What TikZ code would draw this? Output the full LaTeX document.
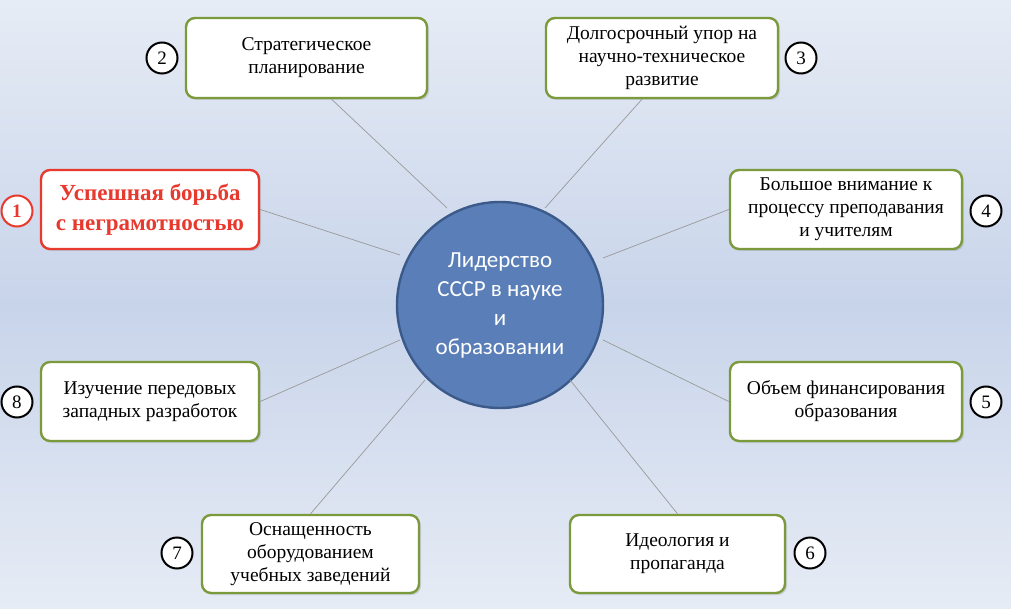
\documentclass[tikz,border=0pt]{standalone}
\usepackage{fontspec}
\setmainfont{Liberation Serif}
\newfontfamily\circfont{Carlito}
\usetikzlibrary{shadows}
\definecolor{olive}{HTML}{7A9A3C}
\definecolor{cfill}{HTML}{5A7FB8}
\definecolor{cedge}{HTML}{3B5A8A}
\definecolor{redc}{HTML}{E8392E}
\definecolor{bgtop}{HTML}{E6ECF5}
\definecolor{bgmid}{HTML}{C8D4EA}
\begin{document}
\begin{tikzpicture}[x=1pt,y=-1pt,
  box/.style={draw=olive,line width=2.4pt,rounded corners=9pt,fill=white,align=center,
    font=\fontsize{19.5}{23}\selectfont,drop shadow={opacity=0.25,shadow xshift=2pt,shadow yshift=-2pt}},
  badge/.style={circle,draw=black,line width=2pt,fill=white,minimum size=31pt,inner sep=0pt,font=\fontsize{19}{22}\selectfont},
  link/.style={draw=gray!80,line width=0.7pt}]
\shade[top color=bgtop,bottom color=bgmid] (0,0) rectangle (1011,305);
\shade[top color=bgmid,bottom color=bgtop] (0,305) rectangle (1011,609);
\useasboundingbox (0,0) rectangle (1011,609);
\node[circle,fill=cfill,draw=cedge,line width=2.4pt,minimum size=206pt,text=white,align=center,
  font=\circfont\fontsize{23}{29}\selectfont] (c) at (500,305) {Лидерство\\СССР в науке\\и\\образовании};
\node[box,draw=redc,text=redc,font=\bfseries\fontsize{23}{30}\selectfont,minimum width=218pt,minimum height=79pt] (b1) at (150,209.5) {Успешная борьба\\с неграмотностью};
\node[box,minimum width=241pt,minimum height=80pt] (b2) at (306.5,58) {Стратегическое\\планирование};
\node[box,minimum width=232pt,minimum height=80pt] (b3) at (662,58) {Долгосрочный упор на\\научно-техническое\\развитие};
\node[box,minimum width=232pt,minimum height=79pt] (b4) at (846,209.5) {Большое внимание к\\процессу преподавания\\и учителям};
\node[box,minimum width=232pt,minimum height=79pt] (b5) at (846,401.5) {Объем финансирования\\образования};
\node[box,minimum width=215pt,minimum height=78pt] (b6) at (677.5,554) {Идеология и\\пропаганда};
\node[box,minimum width=217pt,minimum height=78pt] (b7) at (310.5,554) {Оснащенность\\оборудованием\\учебных заведений};
\node[box,minimum width=218pt,minimum height=79pt] (b8) at (150,401.5) {Изучение передовых\\западных разработок};
\coordinate (e1) at (400,255); \coordinate (e2) at (447,208); \coordinate (e3) at (545,208);
\coordinate (e4) at (603,258); \coordinate (e5) at (603,340); \coordinate (e6) at (570,380);
\coordinate (e7) at (425,380); \coordinate (e8) at (400,340);
\draw[link] (b1.east) -- (e1); \draw[link] ([xshift=25pt]b2.south) -- (e2); \draw[link] ([xshift=-20pt]b3.south) -- (e3);
\draw[link] (b4.west) -- (e4); \draw[link] (b5.west) -- (e5); \draw[link] (b6.north) -- (e6);
\draw[link] (b7.north) -- (e7); \draw[link] (b8.east) -- (e8);
\node[badge,draw=redc,text=redc,font=\bfseries\fontsize{19}{22}\selectfont] (n1) at (17,211) {1};
\node[badge] (n2) at (162,58) {2};
\node[badge] (n3) at (801,58) {3};
\node[badge] (n4) at (986,211) {4};
\node[badge] (n5) at (986,402) {5};
\node[badge] (n6) at (810,553) {6};
\node[badge] (n7) at (177,553) {7};
\node[badge] (n8) at (17,402) {8};
\end{tikzpicture}
\end{document}
